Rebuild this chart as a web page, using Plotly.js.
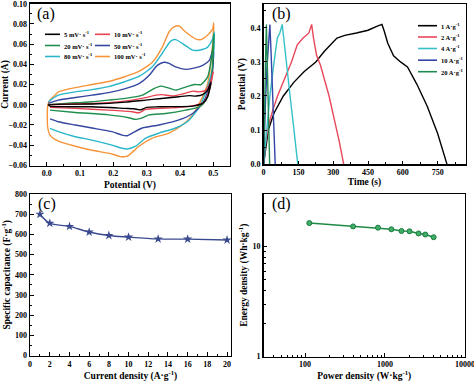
<!DOCTYPE html>
<html><head><meta charset="utf-8">
<script src="https://cdn.plot.ly/plotly-3.0.1.min.js"></script>
<style>html,body{margin:0;padding:0;background:#fff}#chart{width:474px;height:382px}</style>
</head><body><div id="chart"></div>
<script>
// ---------- (a) CV curves ----------
const cvNames = ['5 mV· s<sup>-1</sup>','10 mV· s<sup>-1</sup>','20 mV· s<sup>-1</sup>','50 mV· s<sup>-1</sup>','80 mV· s<sup>-1</sup>','100 mV· s<sup>-1</sup>'];
const cv5V = [0.005,0.136,0.236,0.297,0.337,0.367,0.397,0.428,0.448,0.468,0.483,0.493,0.483,0.468,0.438,0.337,0.300,0.282,0.262,0.236,0.136,0.010,0.005];
const cv5I = [0.000,0.0007,0.0026,0.0046,0.006,0.007,0.008,0.009,0.0086,0.010,0.0145,0.0227,0.008,0.0013,-0.0013,-0.002,-0.0026,-0.0050,-0.0040,-0.0036,-0.002,-0.0013,0.000];
const cv10V = [0.005,0.086,0.186,0.257,0.297,0.327,0.347,0.377,0.412,0.438,0.458,0.478,0.493,0.500,0.488,0.473,0.448,0.397,0.337,0.297,0.277,0.257,0.186,0.086,0.010];
const cv10I = [0.000,0.0007,0.002,0.0046,0.007,0.0095,0.010,0.0086,0.011,0.0135,0.0128,0.0145,0.024,0.0326,0.0145,0.003,-0.0003,-0.0026,-0.0036,-0.0046,-0.0079,-0.0069,-0.0053,-0.0036,-0.0026];
const cv20V = [0.005,0.086,0.136,0.186,0.236,0.287,0.322,0.342,0.362,0.387,0.412,0.443,0.463,0.483,0.496,0.502,0.493,0.478,0.458,0.417,0.357,0.307,0.282,0.267,0.246,0.186,0.086,0.010];
const cv20I = [0.000,0.002,0.003,0.0046,0.0063,0.0095,0.016,0.0184,0.017,0.0145,0.017,0.020,0.020,0.0276,0.050,0.070,0.021,0.0046,-0.002,-0.0053,-0.0086,-0.010,-0.0135,-0.0145,-0.0128,-0.010,-0.0076,-0.0053];
const cv50V = [0.005,0.035,0.086,0.136,0.186,0.236,0.277,0.307,0.332,0.352,0.367,0.387,0.417,0.438,0.468,0.488,0.500,0.498,0.488,0.468,0.438,0.397,0.337,0.287,0.257,0.242,0.226,0.196,0.136,0.086,0.035,0.010];
const cv50I = [0.0013,0.0046,0.0072,0.0095,0.012,0.016,0.021,0.029,0.039,0.042,0.041,0.0375,0.035,0.036,0.039,0.044,0.0556,0.034,0.018,0.0013,-0.0086,-0.015,-0.020,-0.023,-0.028,-0.0306,-0.030,-0.0266,-0.023,-0.020,-0.0168,-0.014];
const cv80V = [0.005,0.035,0.086,0.136,0.186,0.236,0.277,0.317,0.347,0.372,0.387,0.408,0.438,0.458,0.483,0.498,0.503,0.498,0.483,0.458,0.428,0.387,0.337,0.297,0.267,0.242,0.226,0.196,0.136,0.086,0.035,0.010];
const cv80I = [0.003,0.0095,0.0128,0.015,0.018,0.023,0.028,0.0375,0.051,0.063,0.0645,0.0605,0.054,0.054,0.057,0.0655,0.072,0.0375,0.018,-0.002,-0.015,-0.023,-0.028,-0.033,-0.041,-0.0437,-0.043,-0.040,-0.035,-0.0316,-0.0266,-0.0234];
const cv100V = [0.003,0.010,0.025,0.035,0.086,0.136,0.186,0.236,0.277,0.317,0.347,0.367,0.382,0.397,0.417,0.448,0.463,0.483,0.498,0.501,0.498,0.483,0.463,0.438,0.407,0.367,0.317,0.277,0.246,0.236,0.221,0.196,0.136,0.086,0.035,0.010,0.003,0.003];
const cv100I = [-0.001,0.0046,0.0095,0.0128,0.017,0.020,0.023,0.028,0.033,0.042,0.057,0.072,0.077,0.078,0.072,0.065,0.0645,0.069,0.075,0.081,0.060,0.021,0.0046,-0.010,-0.020,-0.028,-0.033,-0.041,-0.050,-0.0513,-0.0513,-0.0487,-0.045,-0.041,-0.036,-0.030,-0.022,-0.001];
const cvColors = ['#000000','#e8434f','#1f8f4e','#3647a0','#2ab7c9','#f7943a'];

// ---------- (b) GCD curves ----------
const gcdNames = ['1 A·g<sup>-1</sup>','2 A·g<sup>-1</sup>','4 A·g<sup>-1</sup>','10 A·g<sup>-1</sup>','20 A·g<sup>-1</sup>'];
const gcd1T = [0,10,20,45,85,130,175,225,260,316,350,400,450,490,510,520,535,560,590,620,660,705,750,790];
const gcd1V = [0,0.05,0.10,0.15,0.20,0.24,0.272,0.30,0.33,0.37,0.378,0.385,0.393,0.405,0.41,0.39,0.355,0.318,0.30,0.285,0.235,0.17,0.09,0.0];
const gcd2T = [0,8,20,40,60,90,120,145,170,195,207,215,228,245,262,282,305,325,345];
const gcd2V = [0,0.06,0.11,0.16,0.20,0.25,0.30,0.35,0.37,0.385,0.41,0.37,0.32,0.29,0.25,0.20,0.13,0.07,0.0];
const gcd4T = [0,6,13,27,45,59,70,80,90,97,114,131,147];
const gcd4V = [0,0.05,0.10,0.20,0.30,0.37,0.385,0.41,0.35,0.30,0.20,0.10,0.0];
const gcd10T = [0,3,8,15,22,27,32,38,44,50];
const gcd10V = [0,0.08,0.18,0.29,0.37,0.41,0.33,0.22,0.11,0.0];
const gcd20T = [0,2,5,9,12,15,19,22,26];
const gcd20V = [0,0.10,0.22,0.33,0.41,0.33,0.20,0.10,0.0];
const gcdColors = ['#000000','#e8475a','#36c0c8','#3344a8','#1e8a50'];

// ---------- (c) rate capability ----------
const currentDensity = [1,2,4,6,8,10,13,16,20];
const specCap = [700,656,640,612,595,587,578,577,573];

// ---------- (d) Ragone ----------
const powerDensity = [113,399,817,1202,1607,2028,2631,3193,4063];
const energyDensity = [16.4,15.3,14.9,14.4,13.9,13.8,13.2,12.9,12.2];

const FONT = 'Liberation Serif, Times New Roman, serif';
const W = 474, H = 382;
const px = x => x / W;
const py = y => 1 - y / H;

const traces = [];
const cvX = [cv5V,cv10V,cv20V,cv50V,cv80V,cv100V];
const cvY = [cv5I,cv10I,cv20I,cv50I,cv80I,cv100I];
for (let i = 5; i >= 0; i--) {
  traces.push({x: cvX[i], y: cvY[i], name: cvNames[i], mode: 'lines', line: {color: cvColors[i], width: 1.4, shape: 'spline', smoothing: 0.6}, xaxis: 'x', yaxis: 'y', showlegend: false});
}
const gT = [gcd1T,gcd2T,gcd4T,gcd10T,gcd20T];
const gV = [gcd1V,gcd2V,gcd4V,gcd10V,gcd20V];
for (let i = 0; i < 5; i++) {
  traces.push({x: gT[i], y: gV[i], name: gcdNames[i], mode: 'lines', line: {color: gcdColors[i], width: 1.4}, xaxis: 'x2', yaxis: 'y2', showlegend: false});
}
traces.push({x: currentDensity, y: specCap, mode: 'lines+markers', line: {color: '#3b4a8f', width: 1.4, shape: 'spline'}, marker: {symbol: 'star', size: 7, color: '#3b4a8f'}, xaxis: 'x3', yaxis: 'y3', showlegend: false});
traces.push({x: powerDensity, y: energyDensity, mode: 'lines+markers', line: {color: '#1f8a46', width: 1.5}, marker: {symbol: 'circle', size: 5, color: '#3fae66', line: {color: '#1a7a3e', width: 1}}, xaxis: 'x4', yaxis: 'y4', showlegend: false});

const tickfont = {family: FONT, size: 8, color: '#000', weight: 'bold'};
const titlefont = {family: FONT, size: 9.5, color: '#000', weight: 'bold'};
function ax(extra) {
  return Object.assign({showline: true, linecolor: '#000', linewidth: 1.3, mirror: true, ticks: 'inside', ticklen: 3.5, tickwidth: 1, tickcolor: '#000', showgrid: false, zeroline: false, tickfont: tickfont, ticklabeloverflow: 'allow', minor: {ticks: 'inside', ticklen: 2, tickcolor: '#000', showgrid: false}}, extra);
}

const layout = {
  width: W, height: H, margin: {l: 0, r: 0, t: 0, b: 0},
  paper_bgcolor: '#fff', plot_bgcolor: '#fff', showlegend: false,
  xaxis: ax({domain: [px(30), px(230)], anchor: 'y', range: [-0.05, 0.55], dtick: 0.1, tick0: 0, tickformat: '.1f', minor: {ticks: 'inside', ticklen: 2, dtick: 0.05, tick0: 0}, title: {text: 'Potential (V)', font: titlefont, standoff: 4}}),
  yaxis: ax({domain: [py(165.5), py(3.5)], anchor: 'x', range: [-0.0601, 0.1002], dtick: 0.02, tick0: 0, tickformat: '.2f', minor: {ticks: 'inside', ticklen: 2, dtick: 0.01, tick0: 0}, title: {text: 'Current (A)', font: titlefont, standoff: 3}}),
  xaxis2: ax({domain: [px(263.5), px(465.5)], anchor: 'y2', range: [-0.5, 870], dtick: 150, tick0: 0, minor: {ticks: 'inside', ticklen: 2, dtick: 75, tick0: 0}, title: {text: 'Time (s)', font: titlefont, standoff: 2}}),
  yaxis2: ax({domain: [py(164.3), py(4)], anchor: 'x2', range: [-0.0005, 0.47], dtick: 0.1, tick0: 0, tickformat: '.1f', minor: {ticks: 'inside', ticklen: 2, dtick: 0.05, tick0: 0}, title: {text: 'Potential (V)', font: titlefont, standoff: 3}}),
  xaxis3: ax({domain: [px(30), px(231)], anchor: 'y3', range: [-0.01, 20.4], dtick: 2, tick0: 0, minor: {ticks: 'inside', ticklen: 2, dtick: 1, tick0: 0}, title: {text: 'Current density (A·g<sup>-1</sup>)', font: titlefont, standoff: 3}}),
  yaxis3: ax({domain: [py(355.7), py(194)], anchor: 'x3', range: [-0.5, 800.5], dtick: 100, tick0: 0, minor: {ticks: 'inside', ticklen: 2, dtick: 50, tick0: 0}, title: {text: 'Specific capacitance (F·g<sup>-1</sup>)', font: titlefont, standoff: 3}}),
  xaxis4: ax({domain: [px(263.5), px(465)], anchor: 'y4', type: 'log', range: [1.48, 4.001], dtick: 1, tickformat: 'd', minor: {ticks: 'inside', ticklen: 2, dtick: 'D1'}, title: {text: 'Power density (W·kg<sup>-1</sup>)', font: titlefont, standoff: 3}}),
  yaxis4: ax({domain: [py(356.5), py(194)], anchor: 'x4', type: 'log', range: [-0.001, 1.48], dtick: 1, tickformat: 'd', minor: {ticks: 'inside', ticklen: 2, dtick: 'D1'}, title: {text: 'Energy density (Wh·kg<sup>-1</sup>)', font: titlefont, standoff: 3}}),
  shapes: [], annotations: []
};

const panelLabels = ['(a)','(b)','(c)','(d)'];
const panelPos = [[35,14],[270,14],[36,204],[270,204]];
panelLabels.forEach((t, i) => layout.annotations.push({text: t, x: px(panelPos[i][0]), y: py(panelPos[i][1]), xref: 'paper', yref: 'paper', xanchor: 'left', yanchor: 'middle', showarrow: false, font: {family: FONT, size: 16, color: '#000'}}));

// legend (a): 2 columns x 3 rows
const legA = [[0,0],[1,0],[0,1],[1,1],[0,2],[1,2]];
const colX = [45, 95], rowY = [34.3, 45.5, 56.5];
legA.forEach(([c, r], i) => {
  layout.shapes.push({type: 'line', xref: 'paper', yref: 'paper', x0: px(colX[c]), x1: px(colX[c] + 15), y0: py(rowY[r]), y1: py(rowY[r]), line: {color: cvColors[i], width: 1.6}});
  layout.annotations.push({text: cvNames[i], x: px(colX[c] + 17), y: py(rowY[r]), xref: 'paper', yref: 'paper', xanchor: 'left', yanchor: 'middle', showarrow: false, font: {family: FONT, size: 6.5, color: '#000', weight: 'bold'}});
});
// legend (b)
const rowB = [25.7, 37, 48.5, 60.2, 71.7];
gcdNames.forEach((n, i) => {
  layout.shapes.push({type: 'line', xref: 'paper', yref: 'paper', x0: px(418), x1: px(437), y0: py(rowB[i]), y1: py(rowB[i]), line: {color: gcdColors[i], width: 1.6}});
  layout.annotations.push({text: n, x: px(439), y: py(rowB[i]), xref: 'paper', yref: 'paper', xanchor: 'left', yanchor: 'middle', showarrow: false, font: {family: FONT, size: 6.5, color: '#000', weight: 'bold'}});
});

Plotly.newPlot('chart', traces, layout, {staticPlot: true});
</script></body></html>
